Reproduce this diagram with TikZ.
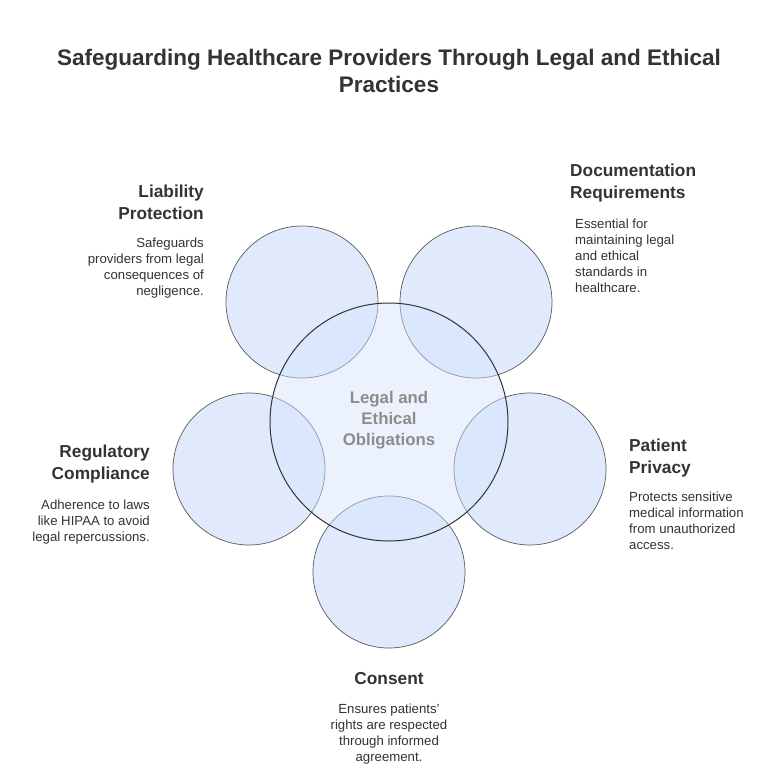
\documentclass[tikz,border=0pt]{standalone}
\usepackage{fontspec}
\setmainfont{Liberation Sans}
\begin{document}
\begin{tikzpicture}[x=1pt,y=-1pt,
  circ/.style={draw=black!65,fill={rgb,255:red,214;green,228;blue,252},fill opacity=0.75,line width=0.7pt},
  ttl/.style={font=\fontsize{22.5}{27}\selectfont\bfseries,text=black!80,align=center},
  hd/.style={font=\fontsize{17.3}{22}\selectfont\bfseries,text=black!80,inner sep=0pt},
  ds/.style={font=\fontsize{13.2}{16}\selectfont,text=black!80,inner sep=0pt}]
\useasboundingbox[fill=white] (0,0) rectangle (780,779);
\node[ttl] (title) at (389,71) {Safeguarding Healthcare Providers Through Legal and Ethical\\Practices};
\draw[circ] (302,302) circle (76);
\draw[circ] (476,302) circle (76);
\draw[circ] (249,469) circle (76);
\draw[circ] (530,469) circle (76);
\draw[circ] (389,572) circle (76);
\draw[circ,line width=1pt,draw=black!80,fill opacity=0.45] (389,422) circle (119);
\node[font=\fontsize{16.8}{21}\selectfont\bfseries,text=black!45,align=center] (c) at (389,420) {Legal and\\Ethical\\Obligations};
\node[hd,align=right,anchor=north east] (h1) at (204,185) {Liability\\Protection};
\node[ds,align=right,anchor=north east] (d1) at (204,238) {Safeguards\\providers from legal\\consequences of\\negligence.};
\node[hd,align=left,anchor=north west] (h2) at (570,164) {Documentation\\Requirements};
\node[ds,align=left,anchor=north west] (d2) at (575,219) {Essential for\\maintaining legal\\and ethical\\standards in\\healthcare.};
\node[hd,align=right,anchor=north east] (h3) at (150,445) {Regulatory\\Compliance};
\node[ds,align=right,anchor=north east] (d3) at (150,500) {Adherence to laws\\like HIPAA to avoid\\legal repercussions.};
\node[hd,align=left,anchor=north west] (h4) at (629,439) {Patient\\Privacy};
\node[ds,align=left,anchor=north west] (d4) at (629,492) {Protects sensitive\\medical information\\from unauthorized\\access.};
\node[hd,align=center,anchor=north] (h5) at (389,672) {Consent};
\node[ds,align=center,anchor=north] (d5) at (389,704) {Ensures patients'\\rights are respected\\through informed\\agreement.};
\end{tikzpicture}
\end{document}
